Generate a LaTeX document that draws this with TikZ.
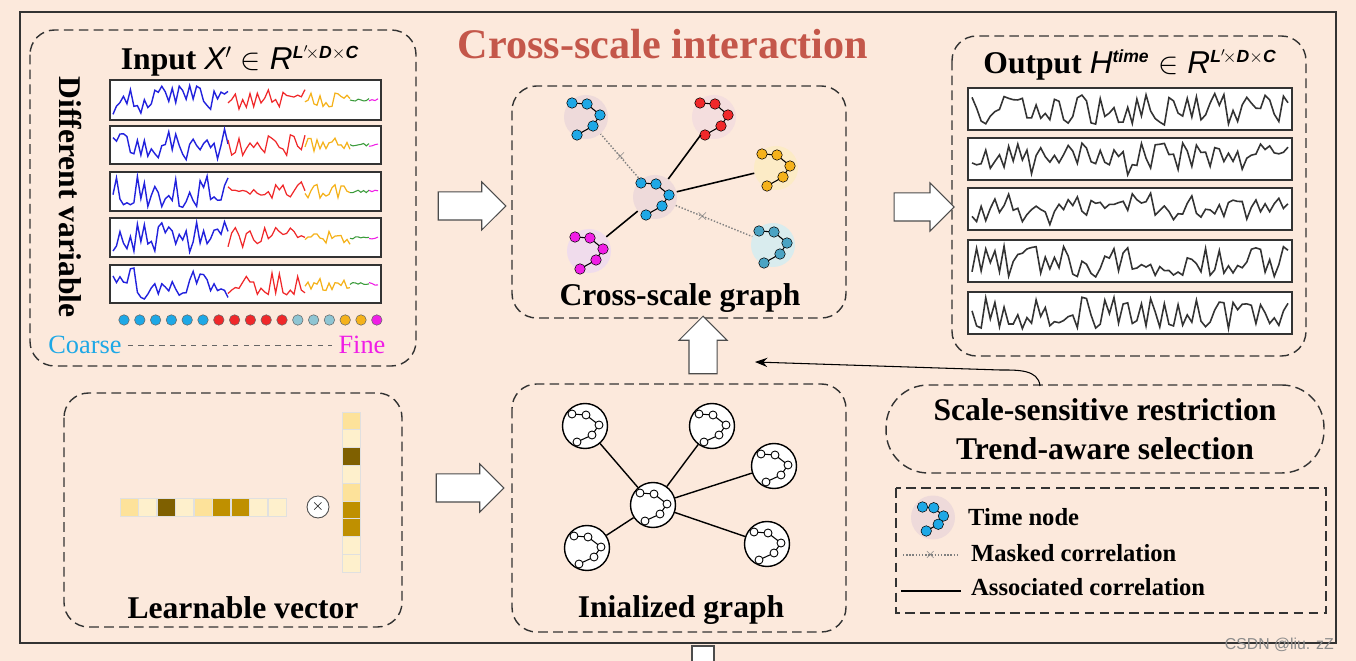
\documentclass[tikz,border=0pt]{standalone}
\usepackage{fontspec}
\setmainfont{Liberation Serif}
\setsansfont{Liberation Sans}
\usetikzlibrary{shapes.arrows,arrows.meta}
\definecolor{bgc}{HTML}{FCE9DC}
\definecolor{titc}{HTML}{C4574A}
\definecolor{sblue}{HTML}{1EA8E6}
\definecolor{sred}{HTML}{F0282A}
\definecolor{sorange}{HTML}{F5B21B}
\definecolor{steal}{HTML}{4BA3C3}
\definecolor{smag}{HTML}{F01EE6}
\definecolor{sgreen}{HTML}{3A9A3A}
\definecolor{lgray}{HTML}{8FC5D3}
\definecolor{vA}{HTML}{FDE29A}
\definecolor{vB}{HTML}{FEF0CC}
\definecolor{vC}{HTML}{7F6000}
\definecolor{vD}{HTML}{BF9000}
\definecolor{lineblue}{HTML}{2222DD}
\definecolor{bgpink}{HTML}{EEDADA}
\definecolor{bgred}{HTML}{F4DEDE}
\definecolor{bgyel}{HTML}{FCEBC6}
\definecolor{bgmag}{HTML}{F0DCEC}
\definecolor{bgcyan}{HTML}{D9ECEE}
\tikzset{
 panel/.style={draw=black!80, line width=0.8pt, dash pattern=on 5.5pt off 3pt, rounded corners=14pt},
 lab/.style={font=\bfseries\fontsize{18}{21}\selectfont},
 leg/.style={font=\bfseries\fontsize{14}{16}\selectfont, anchor=west},
 sbox/.style={draw=black!80, line width=0.7pt, fill=white},
 bigarrow/.style={single arrow, draw=black!70, fill=white, line width=0.6pt, minimum height=1.35cm, inner xsep=0pt, inner ysep=0.27cm, single arrow head extend=0.2cm},
 tdot/.style={circle, draw=black, line width=0.3pt, inner sep=0pt, minimum size=0.21cm},
 wdot/.style={circle, draw=black, fill=white, line width=0.5pt, inner sep=0pt, minimum size=0.16cm},
 assoc/.style={line width=0.9pt, black},
 masked/.style={gray, densely dotted, line width=0.8pt},
 vcell/.style={draw=black!12, line width=0.4pt, minimum size=0.36cm, inner sep=0pt},
}
\newcommand\clust[4]{% name, center, bg, dot colour
 \node[circle, fill=#3, minimum size=0.88cm, inner sep=0pt] (#1) at #2 {};
 \begin{scope}[shift={#2}]
  \draw[line width=0.6pt] (-14,-14)--(1,-13)--(14,-2)--(7,9)--(-9,18);
  \foreach \p in {(-14,-14),(1,-13),(14,-2),(7,9),(-9,18)} \node[tdot, fill=#4] at \p {};
 \end{scope}}
\newcommand\wclust[2]{% name, center
 \node[circle, draw=black, fill=white, line width=0.8pt, minimum size=0.9cm, inner sep=0pt] (#1) at #2 {};
 \begin{scope}[shift={#2}]
  \draw[line width=0.6pt] (-13,-12)--(1,-11)--(14,-1)--(7,9)--(-8,16);
  \foreach \p in {(-13,-12),(1,-11),(14,-1),(7,9),(-8,16)} \node[wdot] at \p {};
 \end{scope}}
\newcommand\inrow[2]{% y, seed
 \pgfmathsetseed{#2}
 \draw[lineblue, line width=0.8pt] plot[samples=34, domain=113:228] (\x,{#1+16*(2*rnd-1)});
 \draw[sred, line width=0.7pt] plot[samples=22, domain=228:305] (\x,{#1+11*(2*rnd-1)});
 \draw[sorange, line width=0.7pt] plot[samples=16, domain=305:350] (\x,{#1+7*(2*rnd-1)});
 \draw[sgreen, line width=0.6pt] plot[samples=8, domain=350:369] (\x,{#1+1.5*(2*rnd-1)});
 \draw[smag, line width=0.6pt] plot[samples=4, domain=369:378] (\x,{#1+1.5*(2*rnd-1)});}
\newcommand\outrow[2]{%
 \pgfmathsetseed{#2}
 \draw[black!80, line width=0.9pt] plot[samples=70, domain=972:1288] (\x,{#1+16*(2*rnd-1)});}
\begin{document}
\begin{tikzpicture}[x=0.02cm, y=-0.02cm]
\useasboundingbox (0,0) rectangle (1356,661);
\fill[bgc] (0,0) rectangle (1356,661);
\draw[black!80, line width=1pt] (20,12) rectangle (1336,643);
\fill[white] (692,646) rectangle (714,661);
\draw[black!70, line width=0.6pt] (692,661)--(692,646)--(714,646)--(714,661);

\node[font=\bfseries\fontsize{24}{27}\selectfont, text=titc] (title) at (663,44) {Cross-scale interaction};

% ---------- input panel
\draw[panel] (30,30) rectangle (416,366);
\node[lab, anchor=base] (intitle) at (240,70) {Input {\sffamily\itshape\mdseries X$'$ $\in$ R\textsuperscript{\fontsize{10}{10}\selectfont\bfseries L$'\!\times$D$\times$C}}};
\node[lab, rotate=-90] (diffvar) at (70,197) {Different variable};
\foreach \ya/\yb/\s [count=\i] in {80/120/11,126/164/22,172/211/33,218/257/44,265/303/55}{
 \node[sbox, minimum width=5.42cm, minimum height={(\yb-\ya)*0.02cm}, inner sep=0pt] (row\i) at (245.5,{(\ya+\yb)/2}) {};
 \inrow{(\ya+\yb)/2}{\s}}
\foreach \c [count=\i from 0] in {sblue,sblue,sblue,sblue,sblue,sblue,sred,sred,sred,sred,sred,lgray,lgray,lgray,sorange,sorange,smag}
 \node[circle, fill=\c, draw=black!60, line width=0.3pt, minimum size=0.21cm, inner sep=0pt] (d\i) at ({124+\i*15.8},320) {};
\node[text=sblue, font=\fontsize{15}{17}\selectfont] (coarse) at (85,345) {Coarse};
\node[text=smag, font=\fontsize{15}{17}\selectfont] (fine) at (362,345) {Fine};
\draw[black!60, dashed, line width=0.4pt] (coarse.east) -- (fine.west);

% ---------- cross-scale graph
\draw[panel] (512,86) rectangle (846,318);
\clust{ctl}{(586,117)}{bgpink}{sblue}
\clust{ctr}{(714,117)}{bgred}{sred}
\clust{cor}{(776,168)}{bgyel}{sorange}
\clust{cc}{(655,197)}{bgpink}{sblue}
\clust{cbl}{(589,251)}{bgmag}{smag}
\clust{cbr}{(773,245)}{bgcyan}{steal}
\draw[assoc] (cc) -- (ctr);
\draw[assoc] (cc) -- (cor);
\draw[assoc] (cc) -- (cbl);
\draw[masked] (cc) -- node[text=gray, font=\small]{$\times$} (ctl);
\draw[masked] (cc) -- node[pos=0.35, text=gray, font=\small]{$\times$} (cbr);
\node[lab] (csg) at (680,298) {Cross-scale graph};

% ---------- output panel
\draw[panel] (952,36) rectangle (1306,356);
\node[lab, anchor=base] (outtitle) at (1130,74) {Output {\sffamily\itshape\mdseries H\textsuperscript{\fontsize{10}{10}\selectfont\bfseries time} $\in$ R\textsuperscript{\fontsize{10}{10}\selectfont\bfseries L$'\!\times$D$\times$C}}};
\foreach \ya/\yb/\s [count=\i] in {88/130/7,138/180/8,188/230/9,240/282/10,292/334/12}{
 \node[sbox, minimum width=6.48cm, minimum height={(\yb-\ya)*0.02cm}, inner sep=0pt] (orow\i) at (1130,{(\ya+\yb)/2}) {};
 \outrow{(\ya+\yb)/2}{\s}}

% ---------- learnable vector
\draw[panel] (64,393) rectangle (402,627);
\foreach \c [count=\i from 0] in {vA,vB,vC,vB,vA,vD,vD,vB,vB}{
 \node[vcell, fill=\c] (h\i) at ({129+\i*18.5},507) {};
 \node[vcell, fill=\c] (v\i) at (351,{421+\i*17.8}) {};}
\node[circle, draw=black!70, fill=white, line width=0.5pt, minimum size=0.44cm, inner sep=0pt, font=\small] (otimes) at (318,507) {$\times$};
\node[lab] (lv) at (243,608) {Learnable vector};

% ---------- initialized graph
\draw[panel] (512,384) rectangle (846,632);
\wclust{wtl}{(585,426)}
\wclust{wtr}{(712,426)}
\wclust{wr}{(774,466)}
\wclust{wc}{(653,505)}
\wclust{wbl}{(587,548)}
\wclust{wbr}{(767,544)}
\foreach \n in {wtl,wtr,wr,wbl,wbr} \draw[line width=0.8pt] (wc) -- (\n);
\node[lab] (ig) at (681,610) {Inialized graph};

% ---------- arrows
\node[bigarrow] (a1) at (465,206) {};
\node[bigarrow, minimum height=1.2cm] (a2) at (917,207) {};
\node[bigarrow] (a3) at (463,488) {};
\node[bigarrow, rotate=90, minimum height=1.15cm] (a4) at (703,352) {};

% ---------- selection
\node[draw=black!80, line width=0.8pt, dash pattern=on 5.5pt off 3pt, rounded corners=24pt, minimum width=8.76cm, minimum height=1.76cm] (sel) at (1105,429) {};
\node[lab, align=center] (seltext) at (1105,429) {Scale-sensitive restriction\\[1pt]Trend-aware selection};
\coordinate (selTop) at (1040,386);
\coordinate (arrEnd) at (755,362);
\draw[-{Stealth[length=7pt]}, line width=0.6pt] (selTop) to[out=95, in=0] (1000,370) -- (arrEnd);

% ---------- legend
\draw[black!80, line width=0.8pt, dash pattern=on 5.5pt off 3pt] (896,488) rectangle (1326,613);
\begin{scope}[scale=0.75]
\clust{leg1}{(1244,690)}{bgpink}{sblue}
\end{scope}
\node[leg] (lt1) at (962,517) {Time node};
\coordinate (m1) at (903,555);
\coordinate (m2) at (958,555);
\draw[masked] (m1) -- node[text=gray, font=\footnotesize]{$\times$} (m2);
\node[leg] (lt2) at (965,553) {Masked correlation};
\coordinate (s1) at (901,591);
\coordinate (s2) at (961,591);
\draw[line width=0.8pt] (s1) -- (s2);
\node[leg] (lt3) at (965,587) {Associated correlation};

\node[text=black!45, font=\sffamily\fontsize{9}{10}\selectfont, anchor=east] (wm) at (1340,645) {CSDN @liu. zZ};
\end{tikzpicture}
\end{document}
